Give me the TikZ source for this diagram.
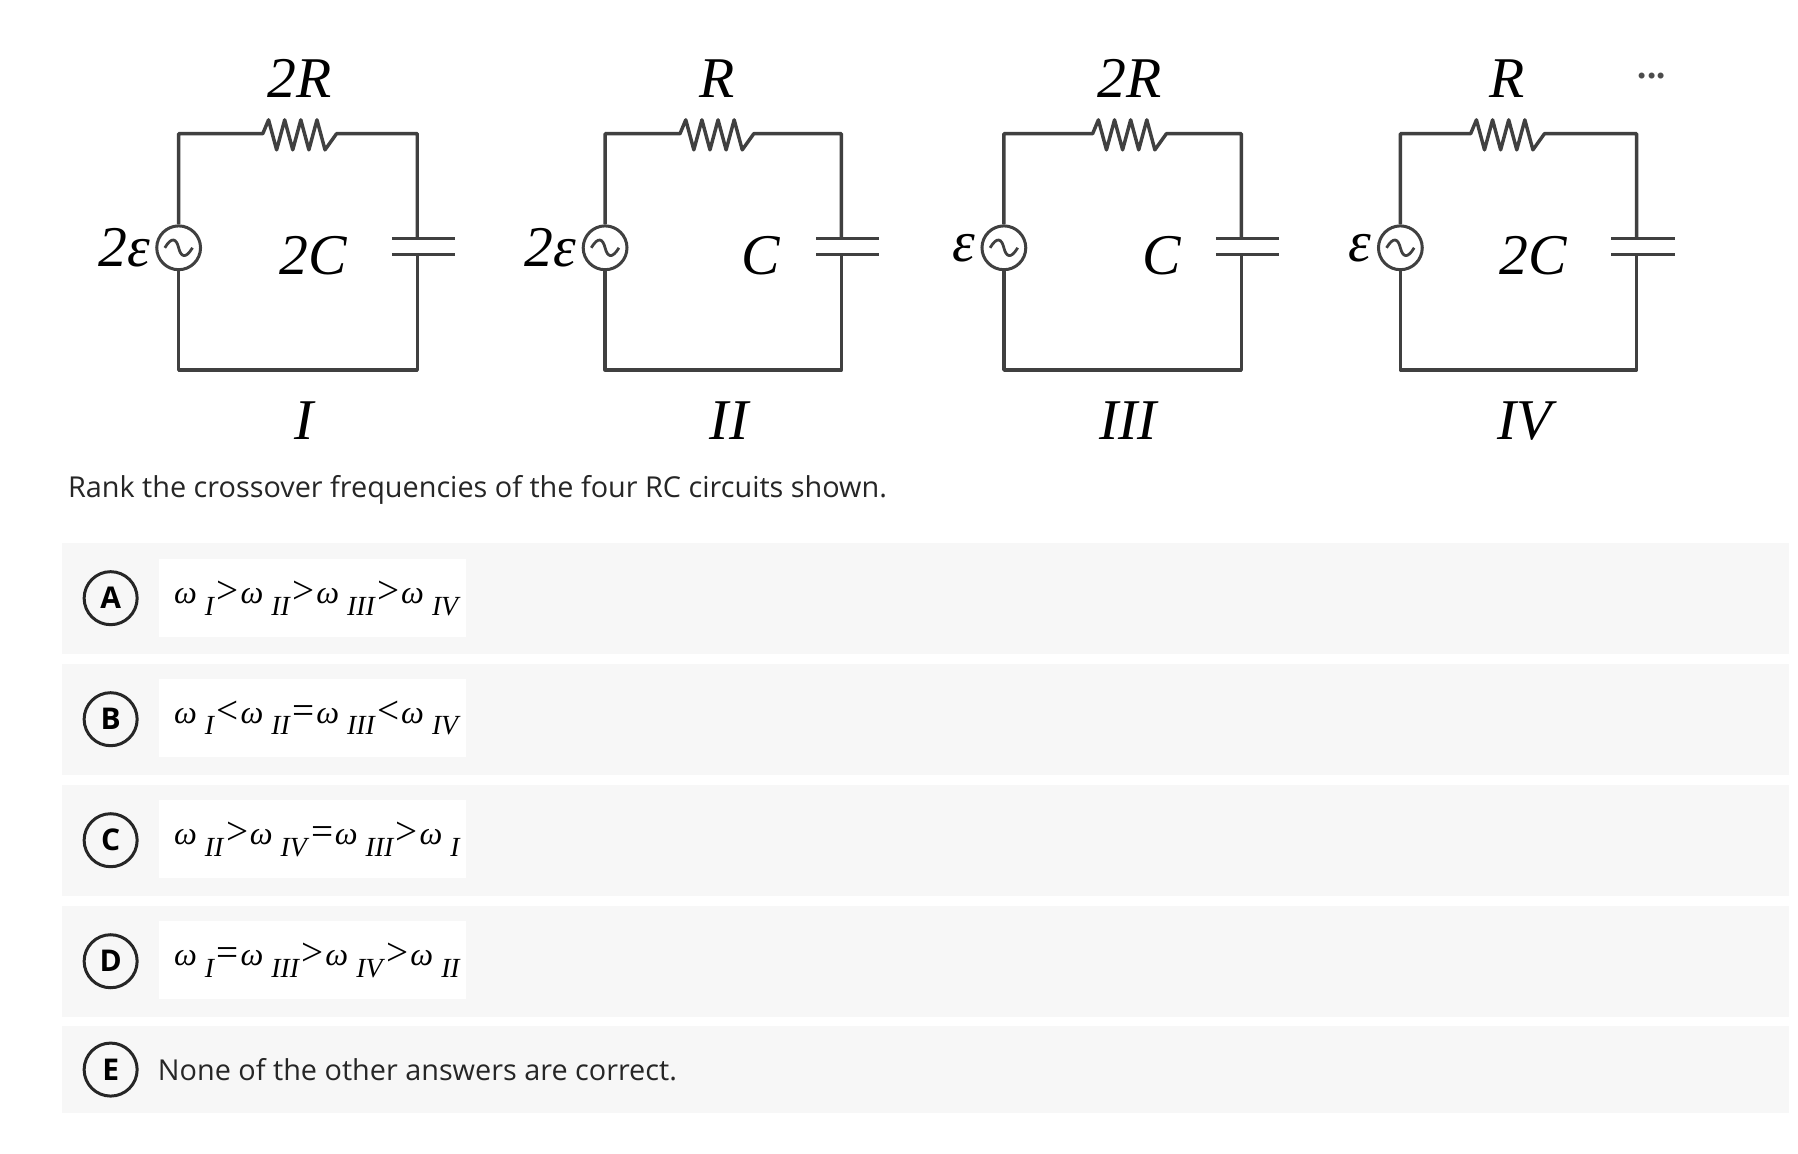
\documentclass[tikz,border=0pt]{standalone}
\usepackage{fontspec}
\setmainfont{Liberation Serif}
\newfontfamily\uifont{Open Sans}
\begin{document}
\begin{tikzpicture}[x=0.5pt,y=-0.5pt,
  wire/.style={draw=black!75,line width=1.5pt,line join=round},
  clab/.style={font=\fontsize{25}{25}\selectfont\itshape},
  optbox/.style={fill=black!3,draw=none},
  inbox/.style={fill=white,draw=none},
  letter/.style={circle,draw=black!85,line width=1.3pt,minimum size=23pt,inner sep=0pt,font=\uifont\bfseries\fontsize{13}{13}\selectfont},
  mathtxt/.style={anchor=west,font=\fontsize{14}{14}\selectfont}]
\useasboundingbox (0,0) rectangle (1560,1001);
\fill[white] (0,0) rectangle (1560,1001);
\newcommand{\circuit}[8]{%
 \coordinate (tl#8) at (#1,116); \coordinate (tr#8) at (#2,116);
 \coordinate (bl#8) at (#1,321); \coordinate (br#8) at (#2,321);
 \node[circle,draw=black!75,line width=1.3pt,minimum size=19pt,inner sep=0pt] (s#8) at (#1,215) {};
 \draw[black!75,line width=1.2pt] ([xshift=-6pt]s#8.center) .. controls ([xshift=-3pt,yshift=5pt]s#8.center) and ([xshift=-1pt,yshift=4pt]s#8.center) .. (s#8.center) .. controls ([xshift=1pt,yshift=-4pt]s#8.center) and ([xshift=3pt,yshift=-5pt]s#8.center) .. ([xshift=6pt]s#8.center);
 \coordinate (ra#8) at (#3-32,116); \coordinate (rb#8) at (#3+32,116);
 \draw[wire] (s#8.north) -- (tl#8) -- (ra#8) -- ++(5,-12) -- ++(7,26) -- ++(7,-26) -- ++(7,26) -- ++(7,-26) -- ++(7,26) -- ++(7,-26)-- ++(7,26) -- (rb#8) -- (tr#8) -- (#2,207);
 \coordinate (c2#8) at (#2,221);
 \draw[wire] (#2-22,207) -- (#2+33,207);
 \draw[wire] (#2-22,221) -- (#2+33,221);
 \draw[wire] (c2#8) -- (br#8) -- (bl#8) -- (s#8.south);
 \node[clab] (rl#8) at (#3,68) {#4};
 \node[clab,anchor=east] (sl#8) at (#1-18,215) {#5};
 \node[clab] (cl#8) at (#7,222) {#6};
 \node[clab] (nl#8) at (#1/2+#2/2+5,365) {#8};
}
\circuit{155}{362}{260}{2R}{2ε}{2C}{272}{I}
\circuit{525}{730}{622}{R}{2ε}{C}{660}{II}
\circuit{871}{1077}{980}{2R}{ε}{C}{1008}{III}
\circuit{1215}{1420}{1308}{R}{ε}{2C}{1330}{IV}
\node[text=black!70,font=\fontsize{16}{16}\selectfont\bfseries] (dots) at (1433,66) {...};
\node[anchor=west,font=\uifont\fontsize{12.5}{12.5}\selectfont,text=black!85] (q) at (52,425) {Rank the crossover frequencies of the four RC circuits shown.};
\foreach \y/\h/\L in {471/96/A,576/96/B,681/96/C,786/96/D,890/76/E}{
  \fill[optbox] (54,\y) rectangle (1552,\y+\h);
  \node[letter] (opt\L) at (96,\y+\h/2) {\L};
}
\foreach \y in {485,589,694,799}{ \fill[inbox] (138,\y) rectangle (404,\y+68); }
\newcommand{\w}[1]{\textit{ω}\hspace{0.25em}\raisebox{-0.8ex}{\fontsize{12}{12}\selectfont\textit{#1}}}
\newcommand{\rel}[1]{\hspace{0.05em}{\fontsize{17}{17}\selectfont #1}\hspace{0.05em}}
\node[mathtxt] (ma) at (144,519) {\w{I}\rel{>}\w{II}\rel{>}\w{III}\rel{>}\w{IV}};
\node[mathtxt] (mb) at (144,623) {\w{I}\rel{<}\w{II}\rel{=}\w{III}\rel{<}\w{IV}};
\node[mathtxt] (mc) at (144,728) {\w{II}\rel{>}\w{IV}\rel{=}\w{III}\rel{>}\w{I}};
\node[mathtxt] (md) at (144,833) {\w{I}\rel{=}\w{III}\rel{>}\w{IV}\rel{>}\w{II}};
\node[anchor=west,font=\uifont\fontsize{12.5}{12.5}\selectfont,text=black!85] (me) at (130,928) {None of the other answers are correct.};
\end{tikzpicture}
\end{document}
